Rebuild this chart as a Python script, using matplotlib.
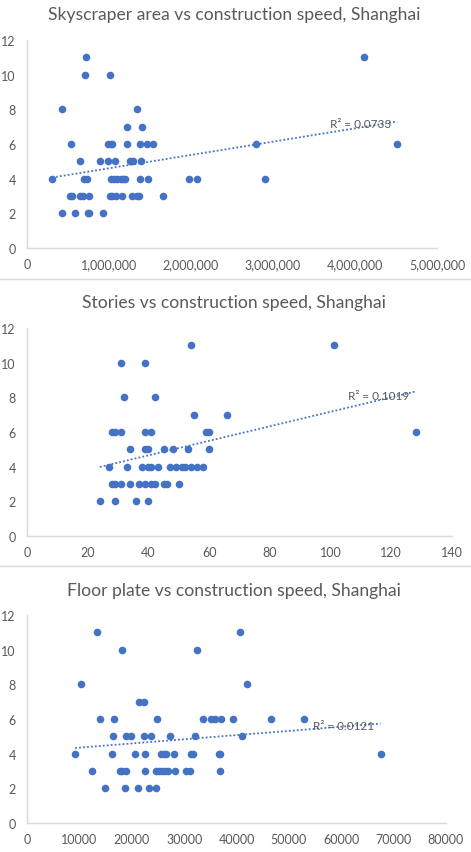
import numpy as np
import matplotlib
matplotlib.use("Agg")
import matplotlib.pyplot as plt
from matplotlib.lines import Line2D
from matplotlib.ticker import FuncFormatter

# skyscraper area (sq ft) vs construction speed (floors / month?)
area_x = [305e3, 428e3, 428e3, 537e3, 521e3, 554e3, 586e3, 647e3, 647e3, 688e3,
          696e3, 729e3, 708e3, 721e3, 757e3, 745e3, 757e3, 888e3, 928e3, 1014e3,
          989e3, 1022e3, 1042e3, 989e3, 1071e3, 1022e3, 1055e3, 1103e3, 1010e3, 1042e3,
          1083e3, 1144e3, 1173e3, 1197e3, 1160e3, 1222e3, 1222e3, 1254e3, 1287e3, 1279e3,
          1340e3, 1344e3, 1368e3, 1380e3, 1380e3, 1389e3, 1405e3, 1466e3, 1539e3, 1478e3,
          1661e3, 1979e3, 2069e3, 2793e3, 2907e3, 4105e3, 4516e3]
area_y = [4, 8, 2, 6, 3, 3, 2, 5, 3, 3,
          4, 4, 10, 11, 3, 2, 2, 5, 2, 10,
          6, 6, 6, 5, 5, 4, 4, 4, 3, 3,
          3, 4, 4, 4, 3, 7, 6, 5, 5, 3,
          8, 3, 3, 6, 4, 5, 7, 6, 6, 4,
          3, 4, 4, 6, 4, 11, 6]

stories_x = [24, 27, 28, 29, 28, 29, 29, 31, 31, 31,
             32, 33, 34, 34, 36, 37, 38, 39, 39, 39,
             40, 39, 40, 40, 41, 41, 41, 42, 42, 43,
             45, 45, 46, 47, 48, 49, 50, 51, 52, 53,
             54, 54, 55, 56, 58, 59, 60, 60, 66, 101,
             128]
stories_y = [2, 4, 3, 3, 6, 6, 2, 10, 6, 3,
             8, 4, 5, 3, 2, 3, 4, 10, 6, 5,
             5, 3, 2, 4, 4, 6, 3, 3, 8, 4,
             5, 3, 3, 4, 5, 4, 3, 4, 4, 5,
             11, 4, 7, 4, 4, 6, 6, 5, 7, 11,
             6]

floor_x = [9180, 10330, 12430, 13390, 13960, 14920, 16260, 16450, 16640, 17790,
           18170, 18170, 18740, 18930, 19890, 18930, 20650, 21230, 21420, 22380,
           22380, 22570, 22570, 23330, 23720, 24670, 24670, 25240, 25820, 26390,
           26970, 24860, 25630, 26200, 26580, 27350, 28110, 28300, 30410, 31170,
           31360, 31620, 32130, 32510, 33660, 35190, 35960, 36720, 36910, 36910,
           37100, 39400, 40740, 41120, 42070, 46670, 52980, 67510]
floor_y = [4, 8, 3, 11, 6, 2, 4, 5, 6, 3,
           3, 10, 2, 5, 5, 3, 4, 2, 7, 7,
           5, 4, 3, 2, 5, 2, 3, 3, 3, 3,
           3, 6, 4, 4, 4, 5, 4, 3, 3, 3,
           4, 4, 5, 10, 6, 6, 6, 4, 4, 3,
           6, 6, 11, 5, 8, 6, 6, 4]

titles = ["Skyscraper area vs construction speed, Shanghai",
          "Stories vs construction speed, Shanghai",
          "Floor plate vs construction speed, Shanghai"]
r2_labels = ["R² = 0.0733", "R² = 0.1019", "R² = 0.0121"]
r2_pos = [(3.70e6, 7.2), (105.7, 8.08), (54600, 5.6)]
x_limits = [(0, 5e6, 1e6), (0, 140, 20), (0, 80000, 10000)]
use_commas = [True, False, False]

BLUE = "#4472C4"
GREY = "#595959"
LINE = "#D9D9D9"

plt.rcParams['font.family'] = ['Lato', 'DejaVu Sans']

fig = plt.figure(figsize=(4.71, 8.53), dpi=100)
W, H = 471.0, 853.0
# axes boxes in pixels: left, top, right, bottom
boxes = [(27, 41, 437, 249), (27, 329, 452, 537), (27, 616, 446, 824)]
title_y = [15, 303, 591]
datasets = [(area_x, area_y), (stories_x, stories_y), (floor_x, floor_y)]

for i, (xs, ys) in enumerate(datasets):
    l, t, r, b = boxes[i]
    ax = fig.add_axes([l / W, 1 - b / H, (r - l) / W, (b - t) / H])
    xs = np.array(xs, dtype=float)
    ys = np.array(ys, dtype=float)
    ax.scatter(xs, ys, s=30, color=BLUE, zorder=3, linewidths=0)
    k, c = np.polyfit(xs, ys, 1)
    xx = np.array([xs.min(), xs.max()])
    ax.plot(xx, k * xx + c, color=BLUE, lw=1.3, ls=(0, (1, 1.2)), zorder=2)
    ax.text(r2_pos[i][0], r2_pos[i][1], r2_labels[i], fontsize=8.5, color=GREY,
            ha="left", va="center", zorder=4)
    x0, x1, step = x_limits[i]
    ax.set_xlim(x0, x1)
    ax.set_ylim(0, 12)
    ax.set_xticks(np.arange(x0, x1 + step / 2, step))
    ax.set_yticks(np.arange(0, 13, 2))
    if use_commas[i]:
        ax.xaxis.set_major_formatter(FuncFormatter(lambda v, p: f"{int(v):,}"))
    else:
        ax.xaxis.set_major_formatter(FuncFormatter(lambda v, p: f"{int(v)}"))
    for side in ["top", "right"]:
        ax.spines[side].set_visible(False)
    for side in ["left", "bottom"]:
        ax.spines[side].set_color(LINE)
        ax.spines[side].set_linewidth(1.0)
    ax.tick_params(axis="both", length=0, labelsize=9, labelcolor=GREY)
    ax.tick_params(axis="y", pad=8)
    ax.tick_params(axis="x", pad=7)
    ax.set_facecolor("none")
    fig.text(234 / W, 1 - title_y[i] / H, titles[i], fontsize=12.6, color=GREY,
             ha="center", va="center")

for sep in [280, 567]:
    fig.add_artist(Line2D([0, 1], [1 - sep / H, 1 - sep / H], color=LINE, lw=1.0))

fig.savefig("out.png", dpi=100)
